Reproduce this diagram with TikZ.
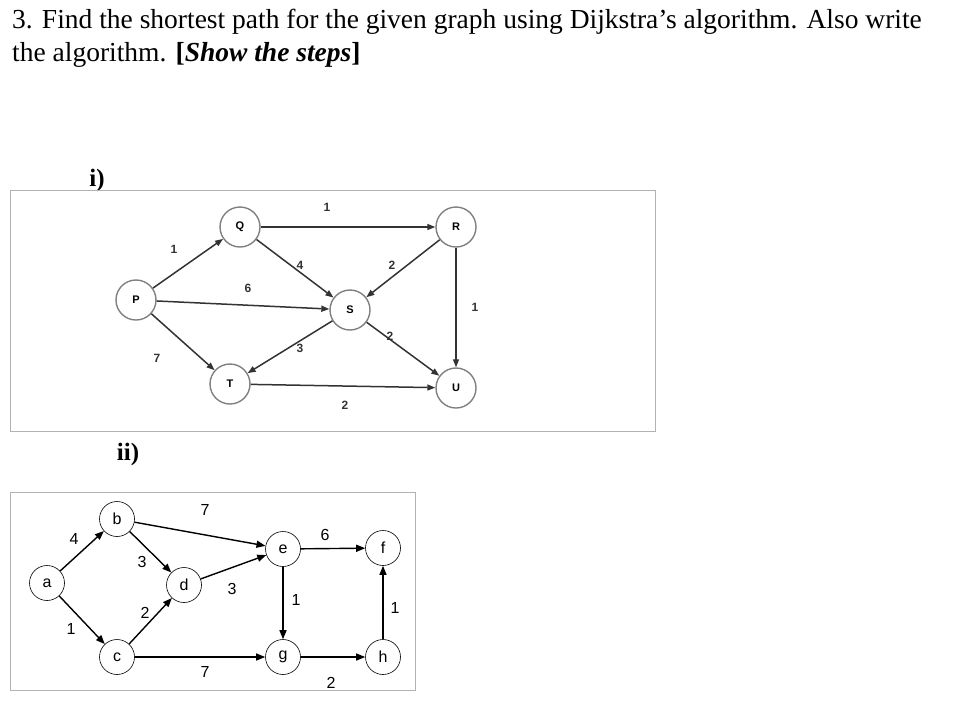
\documentclass[tikz,border=0pt]{standalone}
\usepackage{fontspec}
\setmainfont{Liberation Serif}
\newfontfamily\arial{Liberation Sans}
\usetikzlibrary{arrows.meta}
\begin{document}
\begin{tikzpicture}[x=1pt,y=-1pt,
  vA/.style={circle,draw=black!50,line width=1.4pt,minimum size=40pt,inner sep=0pt,font=\arial\bfseries\fontsize{11}{11}\selectfont},
  eA/.style={-{Triangle[length=8pt,width=6pt]},line width=1.5pt,draw=black!80},
  lA/.style={font=\arial\bfseries\fontsize{12}{12}\selectfont,text=black!80},
  vB/.style={circle,draw=black,line width=0.6pt,minimum size=35pt,inner sep=0pt,font=\arial\fontsize{16}{16}\selectfont},
  eB/.style={-{Triangle[length=9pt,width=7pt]},line width=1.4pt},
  lB/.style={font=\arial\fontsize{16}{16}\selectfont}]
\useasboundingbox (0,0) rectangle (965,710);
\node[anchor=base west,inner sep=0pt,font=\fontsize{27.5}{27.5}\selectfont] (t1) at (12,28) {3. Find the shortest path for the given graph using Dijkstra’s algorithm. Also write};
\node[anchor=base west,inner sep=0pt,font=\fontsize{27.5}{27.5}\selectfont] (t2) at (12,61) {the algorithm. \textbf{[\textit{Show the steps}]}};
\node[anchor=base,inner sep=0pt,font=\bfseries\fontsize{25}{25}\selectfont] (ti) at (97,186) {i)};
\node[anchor=base,inner sep=0pt,font=\bfseries\fontsize{25}{25}\selectfont] (tii) at (128,460) {ii)};
% graph i
\draw[draw=black!30,line width=0.8pt] (10,190) rectangle (655,431);
\node[vA] (P) at (136,300) {P};
\node[vA] (Q) at (240,227) {Q};
\node[vA] (R) at (456,227) {R};
\node[vA] (S) at (350,310) {S};
\node[vA] (T) at (230,384) {T};
\node[vA] (U) at (456,388) {U};
\draw[eA] (P) -- (Q);
\draw[eA] (Q) -- (R);
\draw[eA] (Q) -- (S);
\draw[eA] (P) -- (S);
\draw[eA] (R) -- (S);
\draw[eA] (R) -- (U);
\draw[eA] (S) -- (U);
\draw[eA] (S) -- (T);
\draw[eA] (P) -- (T);
\draw[eA] (T) -- (U);
\node[lA] (l1) at (174,249) {1};
\node[lA] (l2) at (327,207) {1};
\node[lA] (l3) at (300,265) {4};
\node[lA] (l4) at (248,288) {6};
\node[lA] (l5) at (392,265) {2};
\node[lA] (l6) at (475,307) {1};
\node[lA] (l7) at (390,336) {2};
\node[lA] (l8) at (300,348) {3};
\node[lA] (l9) at (157,358) {7};
\node[lA] (l10) at (345,405) {2};
% graph ii
\draw[draw=black!30,line width=0.8pt] (10,492) rectangle (415,690);
\node[vB] (a) at (47,583) {a};
\node[vB] (b) at (117,519) {b};
\node[vB] (c) at (117,657) {c};
\node[vB] (d) at (184,585) {d};
\node[vB] (e) at (283,549) {e};
\node[vB] (f) at (383,548) {f};
\node[vB] (g) at (283,657) {g};
\node[vB] (h) at (383,657) {h};
\draw[eB] (a) -- (b);
\draw[eB] (a) -- (c);
\draw[eB] (b) -- (d);
\draw[eB] (c) -- (d);
\draw[eB] (b) -- (e);
\draw[eB] (d) -- (e);
\draw[eB] (e) -- (f);
\draw[eB] (e) -- (g);
\draw[eB] (c) -- (g);
\draw[eB] (g) -- (h);
\draw[eB] (h) -- (f);
\node[lB] (m1) at (74,539) {4};
\node[lB] (m2) at (71,629) {1};
\node[lB] (m3) at (142,562) {3};
\node[lB] (m4) at (145,613) {2};
\node[lB] (m5) at (205,510) {7};
\node[lB] (m6) at (232,589) {3};
\node[lB] (m7) at (325,535) {6};
\node[lB] (m8) at (296,600) {1};
\node[lB] (m9) at (395,608) {1};
\node[lB] (m10) at (205,672) {7};
\node[lB] (m11) at (331,683) {2};
\end{tikzpicture}
\end{document}
